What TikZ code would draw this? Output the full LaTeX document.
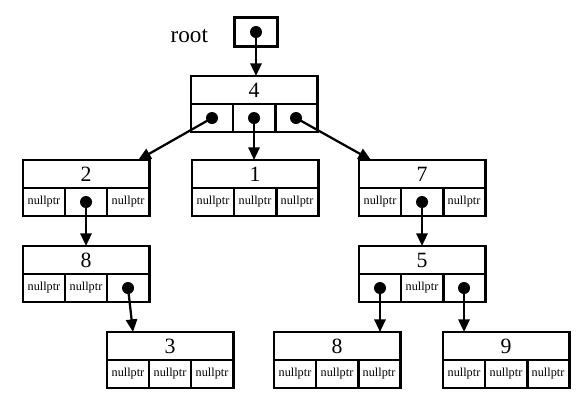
\documentclass[tikz,border=0pt]{standalone}
\usepackage{fontspec}
\setmainfont{Liberation Serif}
\usetikzlibrary{positioning,arrows.meta}

\tikzset{
	valbox/.style={draw, line width=2.1pt, outer sep=0pt, minimum width=3.15cm, minimum height=0.7cm, inner sep=0pt, font=\fontsize{15.5}{16}\selectfont},
	cellbox/.style={draw, line width=2.1pt, outer sep=0pt, minimum width=1.05cm, minimum height=0.7cm, inner sep=0pt, font=\fontsize{8.7}{9}\selectfont},
	ptr/.style={line width=1.6pt, -{Triangle[length=9pt,width=8pt]}},
}

% name, x, y (top left corner in px), value, left, middle, right
\newcommand{\listnode}[7]{
	\node[valbox, anchor=north west] (#1) at (#2,#3) {#4};
	\node[cellbox, anchor=north west] (#1-l) at (#1.south west) {#5};
	\node[cellbox, anchor=north west] (#1-m) at (#1-l.north east) {#6};
	\node[cellbox, anchor=north west] (#1-r) at (#1-m.north east) {#7};
}

\begin{document}
\begin{tikzpicture}[x=0.025cm, y=-0.025cm]
	\useasboundingbox (0,0) rectangle (580,404);

	\node[draw, line width=2.1pt, minimum width=1.075cm, minimum height=0.725cm] (root) at (256,32) {};
	\node[left=0.5cm of root, yshift=-0.1cm, font=\fontsize{16.5}{18}\selectfont] (rootlabel) {root};

	\listnode{n4}{191}{76}{4}{}{}{}
	\listnode{n2}{23}{160}{2}{nullptr}{}{nullptr}
	\listnode{n1}{192}{160}{1}{nullptr}{nullptr}{nullptr}
	\listnode{n7}{359}{160}{7}{nullptr}{}{nullptr}
	\listnode{n8a}{23}{246}{8}{nullptr}{nullptr}{}
	\listnode{n5}{359}{246}{5}{}{nullptr}{}
	\listnode{n3}{107}{332}{3}{nullptr}{nullptr}{nullptr}
	\listnode{n8b}{274}{332}{8}{nullptr}{nullptr}{nullptr}
	\listnode{n9}{443}{332}{9}{nullptr}{nullptr}{nullptr}

	% pointer dots
	\foreach \c in {root, n4-l, n4-m, n4-r, n2-m, n7-m, n8a-r, n5-l, n5-r}
		\fill (\c.center) circle (0.15cm);

	% links
	\draw[ptr] (root.center) -- (root.center |- n4.north);
	\draw[ptr] (n4-l.center) -- ([xshift=2.88cm]n2.north west);
	\draw[ptr] (n4-m.center) -- (n4-m.center |- n1.north);
	\draw[ptr] (n4-r.center) -- ([xshift=0.3cm]n7.north west);
	\draw[ptr] (n2-m.center) -- (n2-m.center |- n8a.north);
	\draw[ptr] (n7-m.center) -- (n7-m.center |- n5.north);
	\draw[ptr] (n8a-r.center) -- ([xshift=0.65cm]n3.north west);
	\draw[ptr] (n5-l.center) -- (n5-l.center |- n8b.north);
	\draw[ptr] (n5-r.center) -- (n5-r.center |- n9.north);
\end{tikzpicture}
\end{document}
